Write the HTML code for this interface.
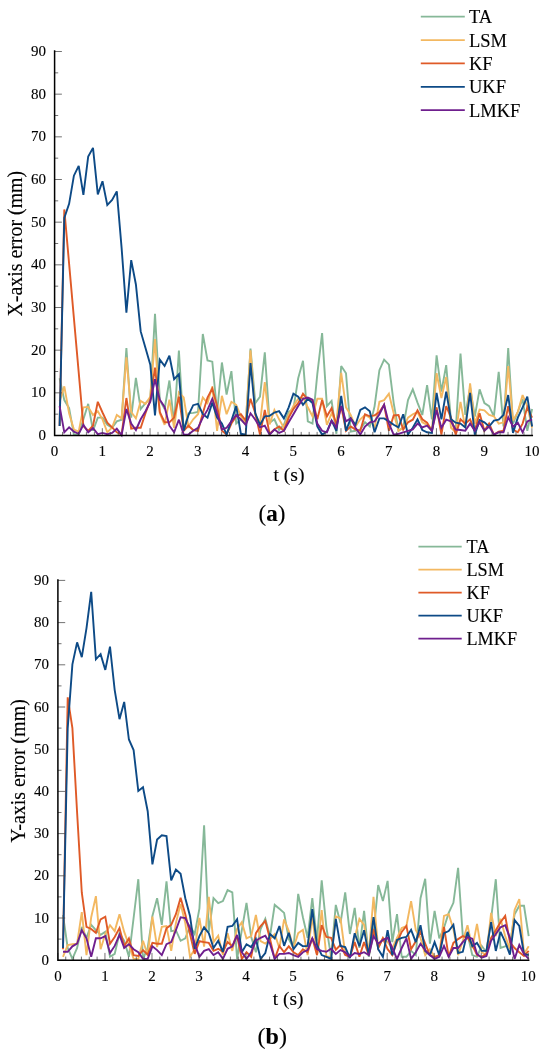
<!DOCTYPE html>
<html><head><meta charset="utf-8"><title>Figure</title>
<style>
html,body{margin:0;padding:0;background:#fff;}
svg{display:block;}
text{font-family:'Liberation Serif', 'Times New Roman', serif;fill:#000;stroke:#000;stroke-width:0.12px;}
</style></head>
<body>
<svg width="550" height="1054" viewBox="0 0 550 1054">
<rect width="550" height="1054" fill="#fff"/>
<polyline fill="none" stroke="#86b898" stroke-width="1.9" stroke-linejoin="miter" stroke-miterlimit="3" points="59.6,378.3 64.3,400.1 69.1,408.2 73.9,434.6 78.7,434.6 83.4,419.3 88.2,403.9 93.0,430.8 97.8,417.6 102.5,417.6 107.3,424.8 112.1,427.8 116.8,421.4 121.6,419.7 126.4,348.0 131.2,417.6 135.9,377.9 140.7,409.0 145.5,403.1 150.3,398.8 155.0,313.9 159.8,400.1 164.6,409.0 169.4,380.5 174.1,423.6 178.9,350.6 183.7,430.8 188.4,413.3 193.2,412.9 198.0,412.0 202.8,334.0 207.5,360.4 212.3,361.7 217.1,412.0 221.9,362.5 226.6,394.5 231.4,371.1 236.2,423.6 240.9,419.3 245.7,424.8 250.5,348.5 255.3,403.1 260.0,396.7 264.8,352.3 269.6,422.7 274.4,419.3 279.1,430.0 283.9,424.8 288.7,412.0 293.4,409.0 298.2,378.3 303.0,360.8 307.8,421.4 312.5,423.6 317.3,374.1 322.1,333.1 326.9,406.1 331.6,400.9 336.4,433.8 341.2,366.0 346.0,373.2 350.7,431.7 355.5,430.8 360.3,429.5 365.0,422.3 369.8,426.5 374.6,406.1 379.4,370.2 384.1,359.6 388.9,364.7 393.7,403.1 398.5,430.8 403.2,427.4 408.0,400.1 412.8,389.4 417.5,402.6 422.3,415.0 427.1,385.2 431.9,419.3 436.6,355.3 441.4,391.6 446.2,365.1 451.0,420.6 455.7,430.8 460.5,353.6 465.3,415.0 470.1,387.3 474.8,416.7 479.6,389.4 484.4,403.1 489.1,406.1 493.9,416.3 498.7,371.9 503.5,426.5 508.2,348.0 513.0,423.6 517.8,412.0 522.6,398.8 527.3,430.8 532.1,409.0"/>
<polyline fill="none" stroke="#f3b861" stroke-width="1.9" stroke-linejoin="miter" stroke-miterlimit="3" points="59.6,401.4 64.3,386.4 69.1,413.3 73.9,429.5 78.7,431.7 83.4,407.3 88.2,406.9 93.0,415.0 97.8,411.2 102.5,419.3 107.3,432.3 112.1,427.4 116.8,415.0 121.6,418.4 126.4,357.4 131.2,412.0 135.9,418.4 140.7,400.9 145.5,403.9 150.3,396.7 155.0,339.1 159.8,413.3 164.6,424.8 169.4,399.7 174.1,427.8 178.9,392.4 183.7,397.5 188.4,426.5 193.2,419.3 198.0,414.2 202.8,397.5 207.5,403.1 212.3,386.4 217.1,430.8 221.9,395.8 226.6,414.2 231.4,401.8 236.2,404.8 240.9,416.3 245.7,423.6 250.5,350.2 255.3,415.0 260.0,423.6 264.8,382.2 269.6,424.4 274.4,409.9 279.1,419.3 283.9,427.8 288.7,415.0 293.4,406.1 298.2,398.8 303.0,397.5 307.8,407.3 312.5,416.3 317.3,398.8 322.1,398.8 326.9,424.8 331.6,413.3 336.4,423.6 341.2,372.8 346.0,407.3 350.7,415.0 355.5,426.5 360.3,419.3 365.0,415.0 369.8,417.6 374.6,427.8 379.4,401.8 384.1,400.1 388.9,393.7 393.7,413.3 398.5,430.8 403.2,427.8 408.0,417.6 412.8,414.2 417.5,412.0 422.3,422.3 427.1,424.8 431.9,430.8 436.6,373.2 441.4,398.0 446.2,377.0 451.0,427.8 455.7,432.3 460.5,401.8 465.3,427.8 470.1,383.4 474.8,423.6 479.6,409.5 484.4,410.3 489.1,415.0 493.9,416.3 498.7,423.6 503.5,422.3 508.2,366.0 513.0,420.6 517.8,412.0 522.6,395.0 527.3,406.1 532.1,427.8"/>
<polyline fill="none" stroke="#df5a27" stroke-width="1.9" stroke-linejoin="miter" stroke-miterlimit="3" points="59.6,426.1 64.3,209.4 69.1,263.6 73.9,318.2 78.7,372.4 83.4,426.1 88.2,430.8 93.0,425.7 97.8,401.8 102.5,412.5 107.3,422.7 112.1,427.4 116.8,432.3 121.6,434.6 126.4,398.0 131.2,428.7 135.9,427.8 140.7,427.8 145.5,413.3 150.3,400.1 155.0,367.7 159.8,412.0 164.6,422.3 169.4,422.3 174.1,417.6 178.9,396.7 183.7,430.8 188.4,425.7 193.2,430.0 198.0,430.8 202.8,413.3 207.5,397.5 212.3,388.6 217.1,406.1 221.9,430.8 226.6,434.6 231.4,423.6 236.2,416.3 240.9,414.2 245.7,420.6 250.5,398.8 255.3,413.3 260.0,434.6 264.8,409.9 269.6,433.8 274.4,429.5 279.1,426.5 283.9,430.8 288.7,417.6 293.4,409.0 298.2,403.1 303.0,393.7 307.8,399.7 312.5,400.1 317.3,419.3 322.1,400.1 326.9,416.3 331.6,408.2 336.4,424.8 341.2,406.1 346.0,430.8 350.7,426.5 355.5,429.5 360.3,430.8 365.0,414.2 369.8,416.3 374.6,415.4 379.4,412.0 384.1,404.8 388.9,430.8 393.7,415.4 398.5,415.0 403.2,429.5 408.0,422.3 412.8,419.7 417.5,410.3 422.3,419.3 427.1,422.7 431.9,430.8 436.6,407.3 441.4,434.6 446.2,406.1 451.0,417.6 455.7,434.6 460.5,419.3 465.3,423.6 470.1,419.3 474.8,430.8 479.6,413.3 484.4,430.8 489.1,423.6 493.9,434.6 498.7,431.7 503.5,430.8 508.2,406.1 513.0,429.5 517.8,432.3 522.6,423.6 527.3,407.3 532.1,417.6"/>
<polyline fill="none" stroke="#0d4a86" stroke-width="1.9" stroke-linejoin="miter" stroke-miterlimit="3" points="59.6,426.1 64.3,217.9 69.1,203.8 73.9,175.7 78.7,165.8 83.4,194.9 88.2,156.5 93.0,147.9 97.8,194.4 102.5,181.2 107.3,205.1 112.1,200.0 116.8,191.4 121.6,247.8 126.4,312.6 131.2,260.1 135.9,284.5 140.7,331.4 145.5,348.0 150.3,364.7 155.0,415.4 159.8,359.6 164.6,366.0 169.4,355.7 174.1,379.2 178.9,374.1 183.7,430.8 188.4,415.4 193.2,405.2 198.0,403.9 202.8,414.2 207.5,417.6 212.3,402.6 217.1,417.6 221.9,423.6 226.6,434.6 231.4,420.6 236.2,406.1 240.9,433.8 245.7,434.6 250.5,363.0 255.3,413.3 260.0,424.8 264.8,416.3 269.6,415.9 274.4,412.5 279.1,411.2 283.9,418.4 288.7,407.3 293.4,393.7 298.2,396.7 303.0,404.8 307.8,398.8 312.5,403.1 317.3,426.5 322.1,434.6 326.9,431.7 331.6,420.6 336.4,430.8 341.2,395.8 346.0,430.8 350.7,418.4 355.5,424.8 360.3,409.9 365.0,407.3 369.8,411.2 374.6,432.3 379.4,418.4 384.1,418.4 388.9,421.4 393.7,424.8 398.5,427.4 403.2,414.2 408.0,434.6 412.8,427.8 417.5,419.3 422.3,430.0 427.1,432.3 431.9,432.9 436.6,392.8 441.4,419.3 446.2,391.6 451.0,419.3 455.7,422.7 460.5,423.6 465.3,427.4 470.1,392.8 474.8,434.6 479.6,420.1 484.4,422.3 489.1,426.5 493.9,420.6 498.7,419.7 503.5,415.0 508.2,395.0 513.0,432.9 517.8,417.6 522.6,407.3 527.3,396.7 532.1,426.5"/>
<polyline fill="none" stroke="#6f1f8e" stroke-width="1.9" stroke-linejoin="miter" stroke-miterlimit="3" points="59.6,406.1 64.3,432.3 69.1,427.4 73.9,431.7 78.7,433.8 83.4,424.8 88.2,432.3 93.0,428.2 97.8,434.2 102.5,432.9 107.3,434.2 112.1,432.9 116.8,428.7 121.6,435.1 126.4,409.0 131.2,423.6 135.9,430.0 140.7,419.3 145.5,411.2 150.3,401.8 155.0,379.2 159.8,399.7 164.6,406.9 169.4,425.7 174.1,432.3 178.9,419.7 183.7,434.6 188.4,434.6 193.2,430.8 198.0,427.8 202.8,417.6 207.5,409.9 212.3,398.8 217.1,413.3 221.9,429.5 226.6,427.8 231.4,421.4 236.2,415.0 240.9,419.3 245.7,424.8 250.5,413.3 255.3,419.7 260.0,427.4 264.8,425.7 269.6,434.6 274.4,429.5 279.1,432.9 283.9,430.8 288.7,422.3 293.4,414.2 298.2,406.1 303.0,398.8 307.8,397.5 312.5,399.7 317.3,423.6 322.1,430.8 326.9,432.3 331.6,420.6 336.4,427.4 341.2,406.1 346.0,421.4 350.7,418.4 355.5,427.8 360.3,434.6 365.0,426.5 369.8,422.3 374.6,421.4 379.4,414.2 384.1,404.8 388.9,423.6 393.7,434.6 398.5,433.8 403.2,432.3 408.0,430.8 412.8,429.5 417.5,423.6 422.3,427.4 427.1,425.7 431.9,430.8 436.6,410.3 441.4,427.8 446.2,419.7 451.0,421.4 455.7,429.5 460.5,430.0 465.3,430.8 470.1,423.6 474.8,430.8 479.6,422.3 484.4,430.8 489.1,426.5 493.9,434.6 498.7,432.3 503.5,432.3 508.2,417.2 513.0,426.5 517.8,422.7 522.6,432.3 527.3,421.4 532.1,419.3"/>
<path d="M54.6,435.50h7.3 M54.6,414.17h3.6 M54.6,392.83h7.3 M54.6,371.50h3.6 M54.6,350.17h7.3 M54.6,328.83h3.6 M54.6,307.50h7.3 M54.6,286.17h3.6 M54.6,264.83h7.3 M54.6,243.50h3.6 M54.6,222.17h7.3 M54.6,200.83h3.6 M54.6,179.50h7.3 M54.6,158.17h3.6 M54.6,136.83h7.3 M54.6,115.50h3.6 M54.6,94.17h7.3 M54.6,72.83h3.6 M54.6,51.50h7.3 M54.60,435.5v-7.3 M62.55,435.5v-3.6 M70.51,435.5v-3.6 M78.47,435.5v-3.6 M86.42,435.5v-3.6 M94.38,435.5v-3.6 M102.33,435.5v-7.3 M110.28,435.5v-3.6 M118.24,435.5v-3.6 M126.19,435.5v-3.6 M134.15,435.5v-3.6 M142.10,435.5v-3.6 M150.06,435.5v-7.3 M158.02,435.5v-3.6 M165.97,435.5v-3.6 M173.92,435.5v-3.6 M181.88,435.5v-3.6 M189.83,435.5v-3.6 M197.79,435.5v-7.3 M205.74,435.5v-3.6 M213.70,435.5v-3.6 M221.65,435.5v-3.6 M229.61,435.5v-3.6 M237.56,435.5v-3.6 M245.52,435.5v-7.3 M253.47,435.5v-3.6 M261.43,435.5v-3.6 M269.38,435.5v-3.6 M277.34,435.5v-3.6 M285.29,435.5v-3.6 M293.25,435.5v-7.3 M301.20,435.5v-3.6 M309.16,435.5v-3.6 M317.12,435.5v-3.6 M325.07,435.5v-3.6 M333.03,435.5v-3.6 M340.98,435.5v-7.3 M348.94,435.5v-3.6 M356.89,435.5v-3.6 M364.84,435.5v-3.6 M372.80,435.5v-3.6 M380.75,435.5v-3.6 M388.71,435.5v-7.3 M396.67,435.5v-3.6 M404.62,435.5v-3.6 M412.57,435.5v-3.6 M420.53,435.5v-3.6 M428.49,435.5v-3.6 M436.44,435.5v-7.3 M444.40,435.5v-3.6 M452.35,435.5v-3.6 M460.31,435.5v-3.6 M468.26,435.5v-3.6 M476.22,435.5v-3.6 M484.17,435.5v-7.3 M492.12,435.5v-3.6 M500.08,435.5v-3.6 M508.03,435.5v-3.6 M515.99,435.5v-3.6 M523.94,435.5v-3.6 M531.90,435.5v-7.3" stroke="#444" stroke-width="0.75" fill="none"/>
<path d="M54.6,51.1V435.5H532.3" stroke="#000" stroke-width="1.5" fill="none" stroke-linecap="square"/>
<text x="45.9" y="440.0" text-anchor="end" font-size="15">0</text>
<text x="45.9" y="397.3" text-anchor="end" font-size="15">10</text>
<text x="45.9" y="354.7" text-anchor="end" font-size="15">20</text>
<text x="45.9" y="312.0" text-anchor="end" font-size="15">30</text>
<text x="45.9" y="269.3" text-anchor="end" font-size="15">40</text>
<text x="45.9" y="226.7" text-anchor="end" font-size="15">50</text>
<text x="45.9" y="184.0" text-anchor="end" font-size="15">60</text>
<text x="45.9" y="141.3" text-anchor="end" font-size="15">70</text>
<text x="45.9" y="98.7" text-anchor="end" font-size="15">80</text>
<text x="45.9" y="56.0" text-anchor="end" font-size="15">90</text>
<text x="54.6" y="456.1" text-anchor="middle" font-size="15">0</text>
<text x="102.3" y="456.1" text-anchor="middle" font-size="15">1</text>
<text x="150.1" y="456.1" text-anchor="middle" font-size="15">2</text>
<text x="197.8" y="456.1" text-anchor="middle" font-size="15">3</text>
<text x="245.5" y="456.1" text-anchor="middle" font-size="15">4</text>
<text x="293.2" y="456.1" text-anchor="middle" font-size="15">5</text>
<text x="341.0" y="456.1" text-anchor="middle" font-size="15">6</text>
<text x="388.7" y="456.1" text-anchor="middle" font-size="15">7</text>
<text x="436.4" y="456.1" text-anchor="middle" font-size="15">8</text>
<text x="484.2" y="456.1" text-anchor="middle" font-size="15">9</text>
<text x="531.9" y="456.1" text-anchor="middle" font-size="15">10</text>
<text x="289.0" y="480.9" text-anchor="middle" font-size="19.7">t (s)</text>
<text transform="translate(21.8,243.7) rotate(-90)" text-anchor="middle" font-size="19.9">X-axis error (mm)</text>
<text x="272.0" y="521.0" text-anchor="middle" font-size="23">(<tspan font-weight="bold">a</tspan>)</text>
<line x1="420.8" x2="464.8" y1="16.7" y2="16.7" stroke="#86b898" stroke-width="1.8"/>
<text x="469" y="23.2" font-size="18.5">TA</text>
<line x1="420.8" x2="464.8" y1="40.1" y2="40.1" stroke="#f3b861" stroke-width="1.8"/>
<text x="469" y="46.6" font-size="18.5">LSM</text>
<line x1="420.8" x2="464.8" y1="63.4" y2="63.4" stroke="#df5a27" stroke-width="1.8"/>
<text x="469" y="69.9" font-size="18.5">KF</text>
<line x1="420.8" x2="464.8" y1="86.8" y2="86.8" stroke="#0d4a86" stroke-width="1.8"/>
<text x="469" y="93.3" font-size="18.5">UKF</text>
<line x1="420.8" x2="464.8" y1="110.2" y2="110.2" stroke="#6f1f8e" stroke-width="1.8"/>
<text x="469" y="116.7" font-size="18.5">LMKF</text>
<polyline fill="none" stroke="#86b898" stroke-width="1.9" stroke-linejoin="miter" stroke-miterlimit="3" points="63.0,915.0 67.7,948.0 72.4,958.9 77.1,948.0 81.8,926.9 86.5,937.8 91.2,924.8 95.9,930.2 100.6,934.9 105.3,931.9 110.0,956.8 114.7,953.9 119.5,933.2 124.2,940.8 128.9,956.8 133.6,918.0 138.3,879.2 143.0,958.9 147.7,948.0 152.4,915.9 157.1,898.2 161.8,924.8 166.5,881.3 171.2,931.1 175.9,930.2 180.6,940.8 185.3,938.3 190.0,926.0 194.7,934.0 199.4,908.7 204.1,825.2 208.8,931.9 213.5,898.2 218.2,903.2 222.9,901.1 227.6,890.1 232.3,892.3 237.1,958.9 241.8,930.2 246.5,902.8 251.2,937.0 255.9,952.2 260.6,929.0 265.3,918.8 270.0,936.1 274.7,904.9 279.4,908.7 284.1,912.9 288.8,939.1 293.5,948.0 298.2,893.9 302.9,917.2 307.6,937.8 312.3,898.2 317.0,940.8 321.7,880.4 326.4,927.3 331.1,956.8 335.8,904.9 340.5,923.1 345.2,892.3 349.9,934.0 354.7,907.9 359.4,948.0 364.1,910.8 368.8,956.8 373.5,933.2 378.2,885.1 382.9,901.1 387.6,880.9 392.3,942.1 397.0,914.2 401.7,956.8 406.4,956.8 411.1,950.9 415.8,955.1 420.5,898.2 425.2,878.8 429.9,943.7 434.6,910.8 439.3,938.3 444.0,927.7 448.7,912.9 453.4,902.8 458.1,867.8 462.8,936.1 467.5,934.0 472.3,955.1 477.0,956.8 481.7,945.9 486.4,952.2 491.1,918.8 495.8,879.2 500.5,948.0 505.2,946.3 509.9,945.0 514.6,914.2 519.3,905.8 524.0,905.8 528.7,936.1"/>
<polyline fill="none" stroke="#f3b861" stroke-width="1.9" stroke-linejoin="miter" stroke-miterlimit="3" points="63.0,956.8 67.7,945.0 72.4,944.2 77.1,943.7 81.8,912.1 86.5,955.1 91.2,917.2 95.9,896.1 100.6,949.2 105.3,934.0 110.0,925.2 114.7,931.1 119.5,914.2 124.2,931.9 128.9,945.0 133.6,958.9 138.3,958.9 143.0,940.8 147.7,955.1 152.4,916.7 157.1,947.1 161.8,926.9 166.5,926.0 171.2,950.9 175.9,923.1 180.6,904.1 185.3,923.1 190.0,956.8 194.7,949.2 199.4,918.0 204.1,946.7 208.8,896.9 213.5,942.1 218.2,935.7 222.9,955.1 227.6,933.2 232.3,950.9 237.1,929.0 241.8,922.2 246.5,938.3 251.2,936.1 255.9,915.0 260.6,941.2 265.3,943.7 270.0,939.1 274.7,934.0 279.4,948.0 284.1,919.3 288.8,931.1 293.5,948.0 298.2,933.2 302.9,929.8 307.6,955.1 312.3,915.9 317.0,955.1 321.7,910.0 326.4,956.8 331.1,956.8 335.8,916.3 340.5,918.4 345.2,953.9 349.9,956.8 354.7,937.8 359.4,918.8 364.1,924.8 368.8,953.9 373.5,896.9 378.2,948.0 382.9,937.8 387.6,942.1 392.3,948.0 397.0,937.8 401.7,928.1 406.4,926.0 411.1,901.1 415.8,930.2 420.5,937.8 425.2,955.1 429.9,949.2 434.6,956.8 439.3,955.1 444.0,915.9 448.7,914.2 453.4,929.0 458.1,955.1 462.8,940.8 467.5,925.2 472.3,948.0 477.0,923.9 481.7,952.2 486.4,955.1 491.1,912.9 495.8,936.1 500.5,918.8 505.2,936.1 509.9,949.2 514.6,910.0 519.3,899.0 524.0,953.9 528.7,946.3"/>
<polyline fill="none" stroke="#df5a27" stroke-width="1.9" stroke-linejoin="miter" stroke-miterlimit="3" points="63.0,949.2 67.7,697.3 72.4,728.1 77.1,812.5 81.8,892.7 86.5,926.9 91.2,929.0 95.9,932.8 100.6,919.3 105.3,916.7 110.0,943.7 114.7,937.0 119.5,928.1 124.2,946.3 128.9,938.3 133.6,955.1 138.3,956.0 143.0,950.1 147.7,954.7 152.4,942.9 157.1,943.7 161.8,943.7 166.5,928.1 171.2,924.8 175.9,914.2 180.6,897.7 185.3,914.2 190.0,934.0 194.7,953.9 199.4,941.2 204.1,942.1 208.8,942.9 213.5,950.9 218.2,948.8 222.9,951.8 227.6,942.1 232.3,946.3 237.1,935.7 241.8,958.9 246.5,952.2 251.2,956.8 255.9,933.2 260.6,926.0 265.3,921.0 270.0,939.1 274.7,958.9 279.4,945.9 284.1,952.2 288.8,946.3 293.5,952.2 298.2,955.1 302.9,949.2 307.6,952.2 312.3,938.3 317.0,955.1 321.7,925.2 326.4,937.0 331.1,937.8 335.8,949.7 340.5,945.0 345.2,955.1 349.9,956.8 354.7,942.1 359.4,956.8 364.1,942.1 368.8,955.1 373.5,929.0 378.2,948.0 382.9,938.3 387.6,949.2 392.3,955.1 397.0,942.1 401.7,931.9 406.4,926.0 411.1,949.2 415.8,941.2 420.5,931.9 425.2,943.7 429.9,955.1 434.6,957.2 439.3,955.1 444.0,926.9 448.7,956.8 453.4,942.9 458.1,939.1 462.8,936.1 467.5,937.8 472.3,945.0 477.0,955.1 481.7,956.8 486.4,953.9 491.1,937.8 495.8,930.2 500.5,922.2 505.2,915.9 509.9,942.1 514.6,948.0 519.3,952.2 524.0,956.0 528.7,950.9"/>
<polyline fill="none" stroke="#0d4a86" stroke-width="1.9" stroke-linejoin="miter" stroke-miterlimit="3" points="63.0,948.0 67.7,728.1 72.4,664.4 77.1,642.4 81.8,657.2 86.5,628.1 91.2,591.8 95.9,659.3 100.6,654.2 105.3,669.9 110.0,646.7 114.7,690.1 119.5,719.2 124.2,701.9 128.9,739.5 133.6,750.0 138.3,791.0 143.0,787.2 147.7,811.2 152.4,864.4 157.1,839.5 161.8,835.3 166.5,836.1 171.2,880.4 175.9,869.5 180.6,873.7 185.3,898.2 190.0,915.9 194.7,948.8 199.4,936.1 204.1,927.3 208.8,933.2 213.5,948.0 218.2,940.8 222.9,951.8 227.6,926.9 232.3,926.0 237.1,919.3 241.8,952.2 246.5,944.2 251.2,947.1 255.9,939.1 260.6,958.9 265.3,953.0 270.0,934.0 274.7,938.3 279.4,926.0 284.1,945.9 288.8,932.8 293.5,949.2 298.2,942.9 302.9,946.3 307.6,945.9 312.3,909.1 317.0,945.0 321.7,955.1 326.4,956.8 331.1,958.9 335.8,918.8 340.5,945.9 345.2,947.1 349.9,958.1 354.7,933.2 359.4,946.3 364.1,930.2 368.8,955.1 373.5,917.2 378.2,949.2 382.9,956.8 387.6,930.2 392.3,955.1 397.0,939.9 401.7,937.8 406.4,937.0 411.1,929.8 415.8,942.1 420.5,925.2 425.2,950.9 429.9,955.1 434.6,942.1 439.3,955.1 444.0,933.2 448.7,931.1 453.4,924.8 458.1,953.0 462.8,951.8 467.5,931.9 472.3,946.3 477.0,942.9 481.7,950.9 486.4,950.9 491.1,922.2 495.8,950.9 500.5,931.9 505.2,942.1 509.9,954.7 514.6,920.1 519.3,926.0 524.0,953.9 528.7,955.1"/>
<polyline fill="none" stroke="#6f1f8e" stroke-width="1.9" stroke-linejoin="miter" stroke-miterlimit="3" points="63.0,951.8 67.7,951.8 72.4,946.3 77.1,943.7 81.8,930.2 86.5,938.3 91.2,956.8 95.9,938.3 100.6,938.3 105.3,936.1 110.0,953.0 114.7,945.9 119.5,934.9 124.2,948.0 128.9,944.2 133.6,949.2 138.3,952.2 143.0,958.9 147.7,958.9 152.4,946.3 157.1,950.1 161.8,955.1 166.5,944.2 171.2,942.1 175.9,930.2 180.6,917.2 185.3,918.0 190.0,928.1 194.7,944.2 199.4,956.8 204.1,950.9 208.8,949.2 213.5,955.1 218.2,952.2 222.9,958.9 227.6,948.8 232.3,946.3 237.1,934.9 241.8,952.2 246.5,958.9 251.2,952.2 255.9,940.8 260.6,937.8 265.3,935.7 270.0,943.7 274.7,958.9 279.4,953.9 284.1,953.9 288.8,953.0 293.5,955.1 298.2,956.8 302.9,952.2 307.6,950.1 312.3,938.3 317.0,949.2 321.7,950.9 326.4,951.8 331.1,948.8 335.8,953.9 340.5,950.1 345.2,952.2 349.9,956.8 354.7,953.0 359.4,953.9 364.1,952.2 368.8,955.1 373.5,936.1 378.2,943.7 382.9,939.9 387.6,937.8 392.3,948.0 397.0,958.9 401.7,948.0 406.4,938.3 411.1,958.9 415.8,952.2 420.5,943.7 425.2,950.1 429.9,955.1 434.6,958.9 439.3,956.8 444.0,945.9 448.7,956.8 453.4,948.0 458.1,948.0 462.8,942.1 467.5,937.0 472.3,938.7 477.0,953.9 481.7,957.7 486.4,956.0 491.1,940.8 495.8,934.0 500.5,927.3 505.2,925.2 509.9,937.8 514.6,958.9 519.3,945.0 524.0,953.9 528.7,958.9"/>
<path d="M57.9,960.20h7.3 M57.9,939.10h3.6 M57.9,918.00h7.3 M57.9,896.90h3.6 M57.9,875.80h7.3 M57.9,854.70h3.6 M57.9,833.60h7.3 M57.9,812.50h3.6 M57.9,791.40h7.3 M57.9,770.30h3.6 M57.9,749.20h7.3 M57.9,728.10h3.6 M57.9,707.00h7.3 M57.9,685.90h3.6 M57.9,664.80h7.3 M57.9,643.70h3.6 M57.9,622.60h7.3 M57.9,601.50h3.6 M57.9,580.40h7.3 M57.90,960.2v-7.3 M65.74,960.2v-3.6 M73.58,960.2v-3.6 M81.42,960.2v-3.6 M89.26,960.2v-3.6 M97.10,960.2v-3.6 M104.94,960.2v-7.3 M112.78,960.2v-3.6 M120.62,960.2v-3.6 M128.46,960.2v-3.6 M136.30,960.2v-3.6 M144.14,960.2v-3.6 M151.98,960.2v-7.3 M159.82,960.2v-3.6 M167.66,960.2v-3.6 M175.50,960.2v-3.6 M183.34,960.2v-3.6 M191.18,960.2v-3.6 M199.02,960.2v-7.3 M206.86,960.2v-3.6 M214.70,960.2v-3.6 M222.54,960.2v-3.6 M230.38,960.2v-3.6 M238.22,960.2v-3.6 M246.06,960.2v-7.3 M253.90,960.2v-3.6 M261.74,960.2v-3.6 M269.58,960.2v-3.6 M277.42,960.2v-3.6 M285.26,960.2v-3.6 M293.10,960.2v-7.3 M300.94,960.2v-3.6 M308.78,960.2v-3.6 M316.62,960.2v-3.6 M324.46,960.2v-3.6 M332.30,960.2v-3.6 M340.14,960.2v-7.3 M347.98,960.2v-3.6 M355.82,960.2v-3.6 M363.66,960.2v-3.6 M371.50,960.2v-3.6 M379.34,960.2v-3.6 M387.18,960.2v-7.3 M395.02,960.2v-3.6 M402.86,960.2v-3.6 M410.70,960.2v-3.6 M418.54,960.2v-3.6 M426.38,960.2v-3.6 M434.22,960.2v-7.3 M442.06,960.2v-3.6 M449.90,960.2v-3.6 M457.74,960.2v-3.6 M465.58,960.2v-3.6 M473.42,960.2v-3.6 M481.26,960.2v-7.3 M489.10,960.2v-3.6 M496.94,960.2v-3.6 M504.78,960.2v-3.6 M512.62,960.2v-3.6 M520.46,960.2v-3.6 M528.30,960.2v-7.3" stroke="#444" stroke-width="0.75" fill="none"/>
<path d="M57.9,580.0V960.2H528.7" stroke="#000" stroke-width="1.5" fill="none" stroke-linecap="square"/>
<text x="49.0" y="964.7" text-anchor="end" font-size="15">0</text>
<text x="49.0" y="922.5" text-anchor="end" font-size="15">10</text>
<text x="49.0" y="880.3" text-anchor="end" font-size="15">20</text>
<text x="49.0" y="838.1" text-anchor="end" font-size="15">30</text>
<text x="49.0" y="795.9" text-anchor="end" font-size="15">40</text>
<text x="49.0" y="753.7" text-anchor="end" font-size="15">50</text>
<text x="49.0" y="711.5" text-anchor="end" font-size="15">60</text>
<text x="49.0" y="669.3" text-anchor="end" font-size="15">70</text>
<text x="49.0" y="627.1" text-anchor="end" font-size="15">80</text>
<text x="49.0" y="584.9" text-anchor="end" font-size="15">90</text>
<text x="57.9" y="980.7" text-anchor="middle" font-size="15">0</text>
<text x="104.9" y="980.7" text-anchor="middle" font-size="15">1</text>
<text x="152.0" y="980.7" text-anchor="middle" font-size="15">2</text>
<text x="199.0" y="980.7" text-anchor="middle" font-size="15">3</text>
<text x="246.1" y="980.7" text-anchor="middle" font-size="15">4</text>
<text x="293.1" y="980.7" text-anchor="middle" font-size="15">5</text>
<text x="340.1" y="980.7" text-anchor="middle" font-size="15">6</text>
<text x="387.2" y="980.7" text-anchor="middle" font-size="15">7</text>
<text x="434.2" y="980.7" text-anchor="middle" font-size="15">8</text>
<text x="481.3" y="980.7" text-anchor="middle" font-size="15">9</text>
<text x="528.3" y="980.7" text-anchor="middle" font-size="15">10</text>
<text x="288.2" y="1004.5" text-anchor="middle" font-size="19.4">t (s)</text>
<text transform="translate(24.5,771.0) rotate(-90)" text-anchor="middle" font-size="19.9">Y-axis error (mm)</text>
<text x="272.3" y="1044.3" text-anchor="middle" font-size="24">(<tspan font-weight="bold">b</tspan>)</text>
<line x1="418.4" x2="461.7" y1="546.6" y2="546.6" stroke="#86b898" stroke-width="1.8"/>
<text x="466.5" y="553.1" font-size="18.2">TA</text>
<line x1="418.4" x2="461.7" y1="569.6" y2="569.6" stroke="#f3b861" stroke-width="1.8"/>
<text x="466.5" y="576.1" font-size="18.2">LSM</text>
<line x1="418.4" x2="461.7" y1="592.7" y2="592.7" stroke="#df5a27" stroke-width="1.8"/>
<text x="466.5" y="599.2" font-size="18.2">KF</text>
<line x1="418.4" x2="461.7" y1="615.7" y2="615.7" stroke="#0d4a86" stroke-width="1.8"/>
<text x="466.5" y="622.2" font-size="18.2">UKF</text>
<line x1="418.4" x2="461.7" y1="638.7" y2="638.7" stroke="#6f1f8e" stroke-width="1.8"/>
<text x="466.5" y="645.2" font-size="18.2">LMKF</text>
</svg>
</body></html>
